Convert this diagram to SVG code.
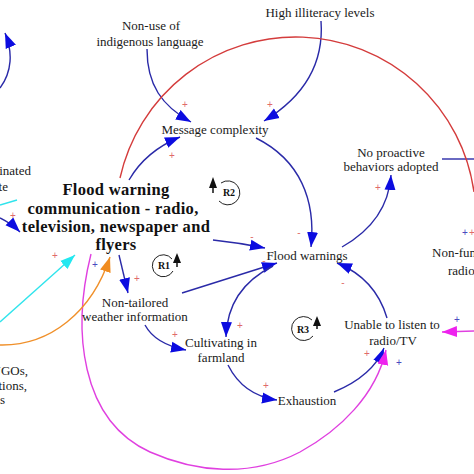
<svg xmlns="http://www.w3.org/2000/svg" width="474" height="474" viewBox="0 0 474 474">
<defs>
<style>
.t{font-family:"Liberation Serif","Times New Roman",serif;font-size:13px;fill:#1a1a1a;text-anchor:middle}
.tb{font-family:"Liberation Serif","Times New Roman",serif;font-size:16.5px;font-weight:bold;fill:#111;text-anchor:middle;letter-spacing:0.3px}
.lp{font-family:"Liberation Serif","Times New Roman",serif;font-size:10px;font-weight:bold;fill:#111;text-anchor:middle}
.pr{font-family:"Liberation Sans",Arial,sans-serif;font-size:10px;fill:#e06a6a;text-anchor:middle}
.pb{font-family:"Liberation Sans",Arial,sans-serif;font-size:10px;fill:#4a4ac0;text-anchor:middle}
.cb{fill:none;stroke:#2a2aa8;stroke-width:1.4}
.lpc{fill:none;stroke:#222;stroke-width:1}
</style>
<marker id="ab" markerUnits="userSpaceOnUse" markerWidth="16" markerHeight="12" refX="15" refY="6" orient="auto"><path d="M0,0.5 L15,6 L0,11.5 z" fill="#0c0ce0"/></marker>
<marker id="am" markerUnits="userSpaceOnUse" markerWidth="16" markerHeight="12" refX="15" refY="6" orient="auto"><path d="M0,0.5 L15,6 L0,11.5 z" fill="#ee22ee"/></marker>
<marker id="ao" markerUnits="userSpaceOnUse" markerWidth="16" markerHeight="12" refX="15" refY="6" orient="auto"><path d="M0,0.5 L15,6 L0,11.5 z" fill="#f08c20"/></marker>
<marker id="ac" markerUnits="userSpaceOnUse" markerWidth="16" markerHeight="12" refX="15" refY="6" orient="auto"><path d="M0,0.5 L15,6 L0,11.5 z" fill="#22e8f0"/></marker>
</defs>
<rect width="474" height="474" fill="#fff"/>

<g id="connectors">
<path class="cb" d="M0,88 C12,72 13,52 5,33" marker-end="url(#ab)"/>
<path class="cb" d="M147,49 C147,85 162,106 191,122" marker-end="url(#ab)"/>
<path class="cb" d="M321,21 C324,62 305,96 264,121" marker-end="url(#ab)"/>
<path class="cb" d="M129,180 C140,161 158,146 180,137" marker-end="url(#ab)"/>
<path class="cb" d="M256,138 C300,160 316,200 311,247" marker-end="url(#ab)"/>
<path class="cb" d="M213,240 C232,242 250,245 265,248" marker-end="url(#ab)"/>
<path class="cb" d="M182,293 L277,263" marker-end="url(#ab)"/>
<path class="cb" d="M273,266 C245,280 227,302 226,337" marker-end="url(#ab)"/>
<path class="cb" d="M342,247 C372,230 389,205 391,175" marker-end="url(#ab)"/>
<path class="cb" d="M387,318 C380,294 364,274 337,263" marker-end="url(#ab)"/>
<path class="cb" d="M119,255 L128,293" marker-end="url(#ab)"/>
<path class="cb" d="M145,325 C152,338 165,346 186,350" marker-end="url(#ab)"/>
<path class="cb" d="M228,365 C238,385 255,397 277,400" marker-end="url(#ab)"/>
<path class="cb" d="M334,392 C358,382 376,368 384,348" marker-end="url(#ab)"/>
<path class="cb" d="M0,218 C8,222 14,226 20,232" marker-end="url(#ab)"/>
<path class="cb" d="M442,159 L474,159"/>
<path fill="none" stroke="#d43c3c" stroke-width="1.4" d="M120,178 A180,180 0 0 1 474,192"/>
<path fill="none" stroke="#e040e0" stroke-width="1.4" d="M91,254 C72,330 80,420 150,452 C195,472 250,478 300,452 C340,430 376,395 386,350" marker-end="url(#am)"/>
<path fill="none" stroke="#e040e0" stroke-width="1.4" d="M474,331 L442,332" marker-end="url(#am)"/>
<path fill="none" stroke="#f0902a" stroke-width="1.4" d="M0,345 C50,346 92,312 110,257" marker-end="url(#ao)"/>
<path fill="none" stroke="#30e4ec" stroke-width="1.4" d="M0,322 L75,255" marker-end="url(#ac)"/>
<path fill="none" stroke="#30e4ec" stroke-width="1.4" d="M0,205 L17,200"/>
</g>

<g id="polarities">
<text class="pr" x="185" y="108">+</text>
<text class="pr" x="270" y="108">+</text>
<text class="pr" x="172" y="159">+</text>
<text class="pr" x="13" y="219">+</text>
<text class="pr" x="55" y="259">+</text>
<text class="pb" x="95" y="268">+</text>
<text class="pr" x="137" y="282">+</text>
<text class="pr" x="299" y="236">-</text>
<text class="pr" x="252" y="240">-</text>
<text class="pr" x="264" y="264">-</text>
<text class="pr" x="343" y="286">-</text>
<text class="pr" x="378" y="191">+</text>
<text class="pr" x="240" y="329">+</text>
<text class="pr" x="175" y="338">+</text>
<text class="pr" x="266" y="389">+</text>
<text class="pr" x="367" y="357">+</text>
<text class="pb" x="399" y="366">+</text>
<text class="pb" x="457" y="323">+</text>
<text class="pb" x="465" y="236">+</text>
<text class="pr" x="472" y="236">+</text>
</g>

<g id="loops">
<g id="R1">
<path class="lpc" d="M172,259 A11,11 0 1 0 173,271"/>
<line x1="177" y1="267" x2="177" y2="262" stroke="#111" stroke-width="1.5"/>
<polygon points="177,253 173,263 181,263" fill="#111"/>
<text class="lp" x="164" y="269">R1</text>
</g>
<g id="R2">
<path class="lpc" d="M221,183 A12,12 0 1 1 219,201"/>
<line x1="213" y1="193" x2="213" y2="187" stroke="#111" stroke-width="1.5"/>
<polygon points="213,177 209,188 217,188" fill="#111"/>
<text class="lp" x="229" y="196">R2</text>
</g>
<g id="R3">
<path class="lpc" d="M312,320 A12,12 0 1 0 313,336"/>
<line x1="317" y1="329" x2="317" y2="325" stroke="#111" stroke-width="1.5"/>
<polygon points="317,316 313,326 321,326" fill="#111"/>
<text class="lp" x="303" y="333">R3</text>
</g>
</g>

<g id="n-nonuse"><text class="t" x="151" y="30">Non-use of</text><text class="t" x="150" y="46">indigenous language</text></g>
<g id="n-illiteracy"><text class="t" x="320" y="17">High illiteracy levels</text></g>
<g id="n-message"><text class="t" x="215" y="134">Message complexity</text></g>
<g id="n-noproactive"><text class="t" x="391" y="157">No proactive</text><text class="t" x="391" y="171">behaviors adopted</text></g>
<g id="n-floodwarnings"><text class="t" x="307" y="260">Flood warnings</text></g>
<g id="n-nonfunctional"><text class="t" x="432" y="257" style="text-anchor:start">Non-functional</text><text class="t" x="448" y="275" style="text-anchor:start">radio</text></g>
<g id="n-unable"><text class="t" x="392" y="329">Unable to listen to</text><text class="t" x="393" y="345">radio/TV</text></g>
<g id="n-exhaustion"><text class="t" x="307" y="405">Exhaustion</text></g>
<g id="n-cultivating"><text class="t" x="221" y="347">Cultivating in</text><text class="t" x="221" y="362">farmland</text></g>
<g id="n-nontailored"><text class="t" x="135" y="307">Non-tailored</text><text class="t" x="135" y="321">weather information</text></g>
<g id="n-title"><text class="tb" x="116" y="195">Flood warning</text><text class="tb" x="113" y="214">communication - radio,</text><text class="tb" x="116" y="232">television, newspaper and</text><text class="tb" x="116" y="250">flyers</text></g>
<g id="n-left"><text class="t" x="31" y="175" style="text-anchor:end">inated</text><text class="t" x="8" y="191" style="text-anchor:end">te</text></g>
<g id="n-ngos"><text class="t" x="28" y="375" style="text-anchor:end">NGOs,</text><text class="t" x="27" y="390" style="text-anchor:end">tions,</text><text class="t" x="5" y="404" style="text-anchor:end">s</text></g>
</svg>
